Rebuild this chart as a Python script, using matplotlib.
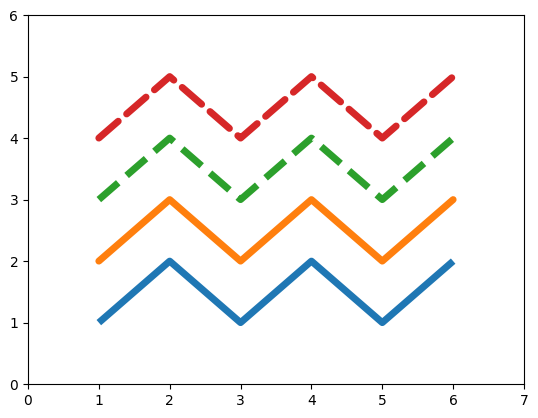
import matplotlib
matplotlib.use('Agg')
import matplotlib.pyplot as plt

x = [1, 2, 3, 4, 5, 6]
y_blue = [1, 2, 1, 2, 1, 2]
y_orange = [2, 3, 2, 3, 2, 3]
y_green = [3, 4, 3, 4, 3, 4]
y_red = [4, 5, 4, 5, 4, 5]

fig = plt.figure(figsize=(5.38, 4.18), dpi=100)
ax = fig.add_axes([0.052, 0.081, 0.922, 0.883])
ax.plot(x, y_blue, linewidth=5, solid_capstyle='butt')
ax.plot(x, y_orange, linewidth=5, solid_capstyle='round')
ax.plot(x, y_green, '--', linewidth=5, dash_capstyle='butt')
ax.plot(x, y_red, '--', linewidth=5, dash_capstyle='round')
ax.set_xlim(0, 7)
ax.set_ylim(0, 6)
plt.savefig('out.png')
